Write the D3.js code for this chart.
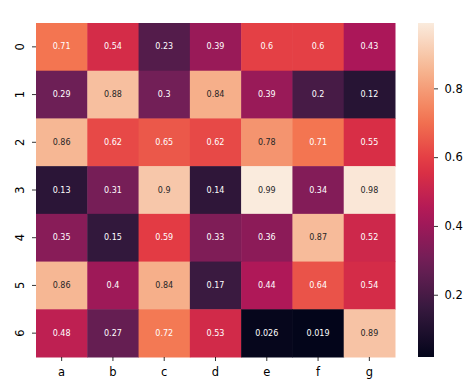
<!DOCTYPE html>
<html><head><meta charset="utf-8">
<script src="https://cdn.jsdelivr.net/npm/d3@7"></script>
<style>body{margin:0;background:#fff}svg{display:block}text{font-family:"DejaVu Sans",sans-serif}</style>
</head><body>
<script>
const columns = ["a","b","c","d","e","f","g"];
const rows = ["0","1","2","3","4","5","6"];
const values = [
  [0.71,0.54,0.23,0.39,0.6,0.6,0.43],
  [0.29,0.88,0.3,0.84,0.39,0.2,0.12],
  [0.86,0.62,0.65,0.62,0.78,0.71,0.55],
  [0.13,0.31,0.9,0.14,0.99,0.34,0.98],
  [0.35,0.15,0.59,0.33,0.36,0.87,0.52],
  [0.86,0.4,0.84,0.17,0.44,0.64,0.54],
  [0.48,0.27,0.72,0.53,0.026,0.019,0.89]
];
const labels = [
  ["0.71","0.54","0.23","0.39","0.6","0.6","0.43"],
  ["0.29","0.88","0.3","0.84","0.39","0.2","0.12"],
  ["0.86","0.62","0.65","0.62","0.78","0.71","0.55"],
  ["0.13","0.31","0.9","0.14","0.99","0.34","0.98"],
  ["0.35","0.15","0.59","0.33","0.36","0.87","0.52"],
  ["0.86","0.4","0.84","0.17","0.44","0.64","0.54"],
  ["0.48","0.27","0.72","0.53","0.026","0.019","0.89"]
];
const cbTicks = [0.2,0.4,0.6,0.8];
const rocketStops = ["#03051a","#35193e","#701f57","#ad1759","#e13342","#f37651","#f6b48f","#faebdd"];

(function(){
const W=474,H=392;
const svg=d3.select("body").append("svg").attr("width",W).attr("height",H);
const mL=36,mR=395,mT=23,mB=357;
const x=d3.scaleBand().domain(columns).range([mL,mR]);
const y=d3.scaleBand().domain(rows).range([mT,mB]);
const flat=values.flat();
const vmin=d3.min(flat),vmax=d3.max(flat);
const rocket=d3.scaleLinear().domain(d3.range(rocketStops.length).map(i=>i/(rocketStops.length-1))).range(rocketStops).interpolate(d3.interpolateRgb);
const norm=d3.scaleLinear().domain([vmin,vmax]).range([0,1]).clamp(true);
const color=v=>rocket(norm(v));
function lum(c){const r=d3.rgb(c);const f=v=>{v/=255;return v<=0.03928?v/12.92:Math.pow((v+0.055)/1.055,2.4)};return 0.2126*f(r.r)+0.7152*f(r.g)+0.0722*f(r.b);}

const cells=[];
values.forEach((row,i)=>row.forEach((v,j)=>cells.push({r:rows[i],c:columns[j],v,l:labels[i][j]})));
svg.append("g").selectAll("rect").data(cells).join("rect")
  .attr("x",d=>x(d.c)).attr("y",d=>y(d.r))
  .attr("width",x.bandwidth()+0.5).attr("height",y.bandwidth()+0.5)
  .attr("fill",d=>color(d.v));
svg.append("g").selectAll("text").data(cells).join("text")
  .attr("x",d=>x(d.c)+x.bandwidth()/2).attr("y",d=>y(d.r)+y.bandwidth()/2)
  .attr("text-anchor","middle").attr("dominant-baseline","central")
  .attr("font-size",8).attr("fill",d=>lum(color(d.v))>0.408?"#262626":"#fff")
  .text(d=>d.l);

const xa=svg.append("g").attr("transform",`translate(0,${mB})`).call(d3.axisBottom(x).tickSize(4).tickPadding(3.5));
xa.select(".domain").remove();
xa.selectAll("text").attr("font-size",11.5).attr("fill","#000").attr("font-family","DejaVu Sans").attr("y",19).attr("dy",null);
xa.selectAll("line").attr("stroke","#000").attr("stroke-width",0.8);
const ya=svg.append("g").attr("transform",`translate(${mL},0)`).call(d3.axisLeft(y).tickSize(4).tickPadding(0));
ya.select(".domain").remove();
ya.selectAll("line").attr("stroke","#000").attr("stroke-width",0.8);
ya.selectAll("text").attr("font-size",11.5).attr("fill","#000").attr("font-family","DejaVu Sans")
  .attr("x",null).attr("dy",null).attr("text-anchor","middle").attr("dominant-baseline","central")
  .attr("transform","translate(-16,0) rotate(-90)");

const cbx=418,cbw=16;
const cy=d3.scaleLinear().domain([vmin,vmax]).range([mB,mT]);
const defs=svg.append("defs");
const grad=defs.append("linearGradient").attr("id","cb").attr("x1",0).attr("y1",1).attr("x2",0).attr("y2",0);
d3.range(0,1.0001,0.05).forEach(t=>grad.append("stop").attr("offset",t).attr("stop-color",rocket(t)));
svg.append("rect").attr("x",cbx).attr("y",mT).attr("width",cbw).attr("height",mB-mT).attr("fill","url(#cb)");
const ca=svg.append("g").attr("transform",`translate(${cbx+cbw},0)`).call(d3.axisRight(cy).tickValues(cbTicks).tickFormat(d3.format(".1f")).tickSize(4).tickPadding(6.5));
ca.select(".domain").remove();
ca.selectAll("line").attr("stroke","#000").attr("stroke-width",0.8);
ca.selectAll("text").attr("font-size",11.5).attr("fill","#000").attr("font-family","DejaVu Sans");
})();
</script>
</body></html>
